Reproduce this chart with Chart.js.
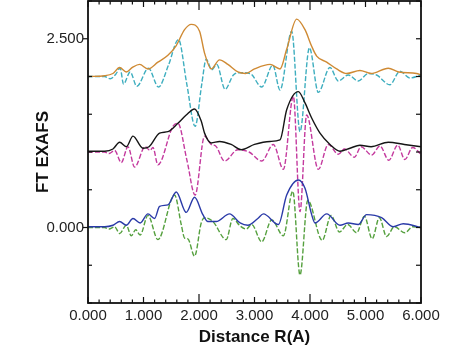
<!DOCTYPE html>
<html>
<head>
<meta charset="utf-8">
<script src="https://cdn.jsdelivr.net/npm/chart.js@4.4.1/dist/chart.umd.min.js"></script>
<style>
html,body{margin:0;padding:0;background:#fff;}
#wrap{width:474px;height:357px;position:relative;}
</style>
</head>
<body>
<div id="wrap"><canvas id="c" width="474" height="357"></canvas></div>
<script>
// Tick label values
const xLabelValues = [0, 1, 2, 3, 4, 5, 6];
const yLabelValues = [0, 2.5];

// Top pair (offset 2.0): envelope (orange) and oscillating part (cyan)
const orangeR = [0,0.3,0.45,0.57,0.69,0.8,0.93,1.08,1.26,1.44,1.59,1.74,1.86,2.01,2.10,2.22,2.37,2.52,2.70,2.84,3.0,3.28,3.46,3.58,3.76,3.91,4.03,4.12,4.30,4.48,4.66,4.90,5.1,5.41,5.6,5.92,6.0];
const orangeV = [2.00,2.01,2.04,2.12,2.06,2.12,2.16,2.10,2.19,2.28,2.41,2.62,2.69,2.60,2.31,2.10,2.22,2.16,2.06,2.04,2.10,2.16,2.10,2.36,2.76,2.62,2.40,2.27,2.19,2.10,2.04,2.08,2.04,2.11,2.06,2.04,2.02];
const cyanR = [0,0.3,0.4,0.5,0.58,0.64,0.76,0.88,1.09,1.27,1.45,1.63,1.78,1.93,2.05,2.13,2.23,2.32,2.47,2.62,2.74,2.92,3.13,3.33,3.46,3.67,3.82,3.99,4.15,4.36,4.51,4.69,4.87,5.05,5.2,5.44,5.62,5.80,6.0];
const cyanV = [2.00,2.00,1.97,2.03,2.11,1.90,2.06,1.87,2.11,1.86,2.15,2.49,1.90,1.34,1.90,2.23,2.09,2.16,1.83,2.02,2.05,2.04,1.86,2.15,1.82,2.60,1.27,2.38,1.79,2.12,1.94,2.02,1.94,2.04,2.02,1.89,2.07,1.98,2.02];

// Middle pair (offset 1.0): envelope (black) and oscillating part (magenta)
const blackR = [0,0.3,0.45,0.57,0.69,0.81,0.99,1.1,1.29,1.44,1.62,1.77,1.92,2.04,2.10,2.22,2.37,2.58,2.76,3.0,3.28,3.46,3.58,3.79,3.91,4.03,4.18,4.36,4.54,4.72,4.9,5.1,5.41,5.7,6.0];
const blackV = [1.01,1.01,1.04,1.13,1.07,1.21,1.05,1.07,1.25,1.27,1.38,1.49,1.57,1.41,1.25,1.12,1.14,1.10,1.03,1.10,1.14,1.16,1.56,1.80,1.65,1.45,1.25,1.10,1.01,1.05,1.09,1.07,1.13,1.10,1.07];
const magentaR = [0,0.3,0.38,0.48,0.60,0.72,0.84,1.03,1.12,1.17,1.26,1.53,1.62,1.78,1.93,2.10,2.22,2.30,2.46,2.70,2.90,3.13,3.34,3.52,3.70,3.82,3.94,4.15,4.33,4.51,4.62,4.80,4.92,5.11,5.26,5.42,5.58,5.71,5.85,6.0];
const magentaV = [1.00,1.00,0.98,1.02,0.86,1.07,0.80,1.07,1.02,1.06,0.83,1.34,1.38,0.90,0.43,1.21,1.10,1.08,0.88,1.03,1.00,0.88,1.10,0.77,1.74,0.21,1.49,0.77,1.10,0.97,1.04,0.93,1.07,0.96,1.08,0.89,1.09,0.90,1.06,0.97];

// Bottom pair (offset 0): envelope (blue) and oscillating part (green)
const blueR = [0,0.3,0.45,0.57,0.69,0.81,0.94,1.08,1.20,1.29,1.44,1.59,1.77,1.92,2.07,2.16,2.31,2.55,2.74,2.88,3.06,3.16,3.43,3.58,3.79,3.91,4.03,4.09,4.30,4.54,4.69,4.87,5.02,5.29,5.50,5.68,6.0];
const blueV = [0.01,0.01,0.03,0.08,0.03,0.12,0.06,0.18,0.12,0.28,0.30,0.47,0.20,0.40,0.17,0.08,0.08,0.18,0.06,0.03,0.12,0.18,0.04,0.43,0.63,0.52,0.17,0.06,0.18,0.03,0.06,0.04,0.17,0.13,0.01,0.05,0.00];
const greenR = [0,0.3,0.38,0.48,0.57,0.69,0.78,0.86,0.94,1.08,1.26,1.56,1.68,1.74,1.80,1.92,2.04,2.10,2.25,2.49,2.61,2.74,2.85,2.95,3.13,3.31,3.52,3.69,3.82,3.96,4.22,4.38,4.53,4.68,4.84,4.98,5.12,5.25,5.38,5.52,5.71,5.85,6.0];
const greenV = [0.00,0.00,-0.02,0.01,-0.08,0.03,-0.11,-0.03,-0.10,0.16,-0.16,0.43,0.04,-0.14,-0.15,-0.38,0.06,0.13,0.08,-0.16,0.12,0.02,-0.02,0.04,-0.19,0.10,-0.11,0.48,-0.63,0.36,-0.17,0.16,-0.06,0.04,-0.07,0.15,-0.15,0.13,-0.12,0.01,-0.07,0.01,0.00];

function pts(rs, vs){ return rs.map((r,i)=>({x:r, y:vs[i]})); }

function solid(label, rs, vs, color){
  return {label, data: pts(rs, vs), borderColor: color, borderWidth: 1.4, pointRadius: 0,
          cubicInterpolationMode: 'monotone', fill: false};
}
function dashed(label, rs, vs, color){
  return {label, data: pts(rs, vs), borderColor: color, borderWidth: 1.4, pointRadius: 0,
          borderDash: [5, 2], cubicInterpolationMode: 'monotone', fill: false};
}

const near = (a, b) => Math.abs(a - b) < 1e-6;

const framePlugin = {
  id: 'frame',
  afterDatasetsDraw(chart){
    const {ctx, chartArea: a, scales: {x, y}} = chart;
    ctx.save();
    ctx.strokeStyle = '#111';
    ctx.lineWidth = 1.8;
    ctx.strokeRect(a.left, a.top, a.right - a.left, a.bottom - a.top);
    ctx.lineWidth = 1.2;
    const line = (x1, y1, x2, y2) => { ctx.beginPath(); ctx.moveTo(x1, y1); ctx.lineTo(x2, y2); ctx.stroke(); };
    x.ticks.forEach(t => {
      const v = t.value, px = x.getPixelForValue(v);
      const r = Math.round(v);
      const isInt = near(v, r);
      const len = isInt ? ((r % 2 === 0 && r > 0 && r < 6) ? 9 : 6) : 3.5;
      line(px, a.bottom, px, a.bottom - len);
      line(px, a.top, px, a.top + len);
    });
    y.ticks.forEach(t => {
      const v = t.value, py = y.getPixelForValue(v);
      const major = yLabelValues.some(m => near(v, m));
      if (major) line(a.left - 5, py, a.left, py); else line(a.left, py, a.left + 4, py);
      line(a.right, py, a.right - 5, py);
    });
    ctx.restore();
  }
};

new Chart(document.getElementById('c'), {
  type: 'line',
  data: {
    datasets: [
      solid('orange', orangeR, orangeV, '#cf8a34'),
      solid('black', blackR, blackV, '#151515'),
      solid('blue', blueR, blueV, '#2a3aa8'),
      dashed('cyan', cyanR, cyanV, '#3eaebf'),
      dashed('magenta', magentaR, magentaV, '#c43a9e'),
      dashed('green', greenR, greenV, '#55a03e')
    ]
  },
  options: {
    responsive: false,
    animation: false,
    devicePixelRatio: 1,
    layout: {padding: {top: 1, right: 53, left: 0, bottom: 0}},
    plugins: {legend: {display: false}, tooltip: {enabled: false}},
    scales: {
      x: {
        type: 'linear', min: 0, max: 6,
        grid: {display: false, drawTicks: false},
        border: {display: false},
        ticks: {
          stepSize: 0.2, autoSkip: false, maxRotation: 0, padding: 4,
          color: '#222', font: {family: 'Liberation Sans, Arial, sans-serif', size: 15},
          callback: (v) => xLabelValues.some(m => near(v, m)) ? Number(v).toFixed(3) : ''
        },
        title: {display: true, text: 'Distance R(A)', color: '#111',
                font: {family: 'Liberation Sans, Arial, sans-serif', size: 17, weight: 'bold'},
                padding: {top: 0, bottom: 9}},
        afterFit: (s) => { s.height = 54; s.paddingLeft = 0; s.paddingRight = 0; }
      },
      y: {
        type: 'linear', min: -1, max: 3,
        grid: {display: false, drawTicks: false},
        border: {display: false},
        ticks: {
          stepSize: 0.5, autoSkip: false, padding: 4,
          color: '#222', font: {family: 'Liberation Sans, Arial, sans-serif', size: 15},
          callback: (v) => yLabelValues.some(m => near(v, m)) ? Number(v).toFixed(3) : ''
        },
        title: {display: true, text: 'FT EXAFS', color: '#111',
                font: {family: 'Liberation Sans, Arial, sans-serif', size: 17, weight: 'bold'},
                padding: {top: 33, bottom: 0}},
        afterFit: (s) => { s.width = 88; s.paddingTop = 0; s.paddingBottom = 0; }
      }
    }
  },
  plugins: [framePlugin]
});
</script>
</body>
</html>
